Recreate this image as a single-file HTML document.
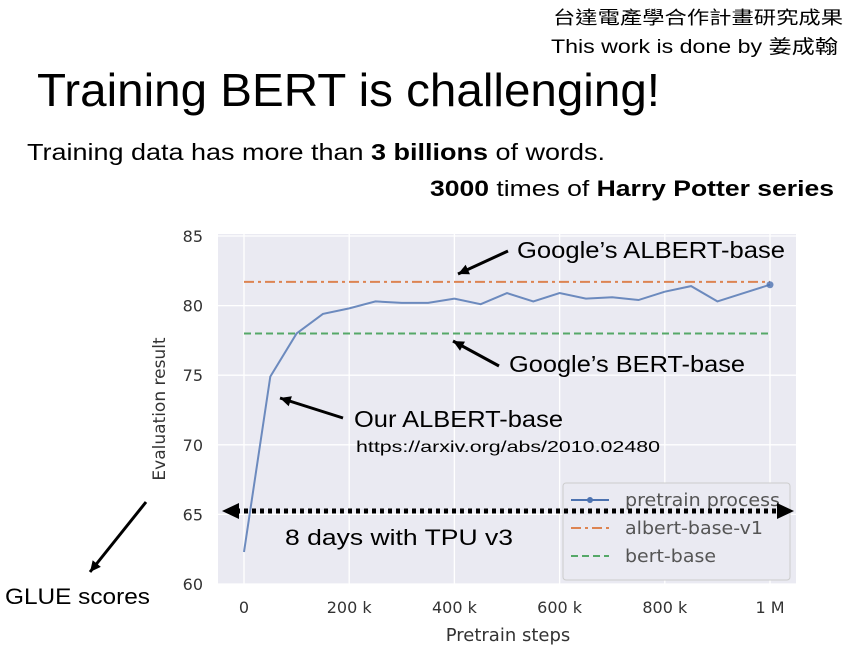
<!DOCTYPE html>
<html><head><meta charset="utf-8"><style>
body{margin:0;width:844px;height:650px;background:#fff;overflow:hidden;position:relative;font-family:"Liberation Sans","Noto Sans CJK TC",sans-serif}
</style></head><body>
<svg id="chart" width="844" height="650" style="position:absolute;left:0;top:0"></svg>
<script>
const steps=[0,50,100,150,200,250,300,350,400,450,500,550,600,650,700,750,800,850,900,950,1000];
const pretrain=[62.3,74.9,78.0,79.4,79.8,80.3,80.2,80.2,80.5,80.1,80.9,80.3,80.9,80.5,80.6,80.4,81.0,81.4,80.3,80.9,81.5];
const albertBase=81.7;
const bertBase=78.0;
const xTicks=[0,200,400,600,800,1000];
const xTickLabels=["0","200 k","400 k","600 k","800 k","1 M"];
const yTicks=[60,65,70,75,80,85];
const NS="http://www.w3.org/2000/svg";
const svg=document.getElementById('chart');
const X=v=>244+(v/1000)*526;
const Y=v=>584-(v-60)*13.92;
function el(t,a,name,p){const e=document.createElementNS(NS,t);for(const k in a)e.setAttribute(k,a[k]);


(p||svg).appendChild(e);return e;}
function txt(x,y,s,w,t,name,bold){const e=el('text',{x,y,'font-size':s,fill:'#000','font-family':'Liberation Sans, Noto Sans CJK TC, sans-serif',textLength:w,lengthAdjust:'spacingAndGlyphs'},name);
if(Array.isArray(t)){t.forEach(p=>{const ts=document.createElementNS(NS,'tspan');if(p[1])ts.setAttribute('font-weight','bold');ts.textContent=p[0];e.appendChild(ts);});}else e.textContent=t;return e;}
txt(553,24,18,290,'台達電產學合作計畫研究成果','credit-line-1');
txt(551,53,19,287,'This work is done by 姜成翰','credit-line-2');
txt(37,106,46,623,'Training BERT is challenging!','slide-title');
txt(27,160,23,578,[['Training data has more than '],['3 billions',1],[' of words.']],'subtitle');
txt(430,196,22,404,[['3000',1],[' times of '],['Harry Potter series',1]],'harry-potter-note');
el('rect',{x:218,y:234,width:578,height:350,fill:'#eaeaf2'},'plot-background');
xTicks.forEach((t,i)=>{el('line',{x1:X(t),x2:X(t),y1:234,y2:584,stroke:'#fff','stroke-width':1.3},'x-gridline');
const tx=el('text',{x:X(t),y:613,'text-anchor':'middle','font-size':16,fill:'#333','font-family':'DejaVu Sans'},'x-tick-label');tx.textContent=xTickLabels[i];});
yTicks.forEach(t=>{el('line',{x1:218,x2:796,y1:Y(t),y2:Y(t),stroke:'#fff','stroke-width':1.3},'y-gridline');
const tx=el('text',{x:203,y:Y(t)+6,'text-anchor':'end','font-size':16,fill:'#333','font-family':'DejaVu Sans'},'y-tick-label');tx.textContent=t;});
const xt=el('text',{x:508,y:641,'text-anchor':'middle','font-size':18,fill:'#333','font-family':'DejaVu Sans'},'x-axis-title');xt.textContent='Pretrain steps';
const yt=el('text',{x:165,y:409,'text-anchor':'middle','font-size':17,fill:'#333','font-family':'DejaVu Sans',transform:'rotate(-90 165 409)'},'y-axis-title');yt.textContent='Evaluation result';
el('line',{x1:X(0),x2:X(1000),y1:Y(albertBase),y2:Y(albertBase),stroke:'#dd8452','stroke-width':2,'stroke-dasharray':'10 4 3 4'},'albert-base-line');
el('line',{x1:X(0),x2:X(1000),y1:Y(bertBase),y2:Y(bertBase),stroke:'#55a868','stroke-width':2,'stroke-dasharray':'7 4'},'bert-base-line');
el('polyline',{points:steps.map((s,i)=>X(s)+','+Y(pretrain[i])).join(' '),fill:'none',stroke:'#4c72b0','stroke-width':2,opacity:0.8},'pretrain-line');
el('circle',{cx:X(steps[steps.length-1]),cy:Y(pretrain[pretrain.length-1]),r:3.5,fill:'#4c72b0',opacity:0.8},'pretrain-end-point');
// legend
el('rect',{x:563,y:483,width:227,height:97,rx:3,fill:'#eaeaf2',stroke:'#ccc'},'legend-box');
const lg=[['pretrain process','#4c72b0','none',155],['albert-base-v1','#dd8452','10 4 3 4',138],['bert-base','#55a868','7 4',91]];
lg.forEach((l,i)=>{const y=500+i*28;
el('line',{x1:571,x2:609,y1:y,y2:y,stroke:l[1],'stroke-width':2,'stroke-dasharray':l[2]},'legend-swatch');
if(i==0)el('circle',{cx:590,cy:y,r:3,fill:l[1]},'legend-marker');
const tx=el('text',{x:625,y:y+6,'font-size':18,fill:'#555','font-family':'DejaVu Sans',textLength:l[3],lengthAdjust:'spacingAndGlyphs'},'legend-entry');tx.textContent=l[0];});
// annotations
function arrow(x1,y1,x2,y2,name){el('line',{x1,y1,x2,y2,stroke:'#000','stroke-width':3},name);
const a=Math.atan2(y2-y1,x2-x1),s=12;
el('polygon',{points:`${x2},${y2} ${x2-s*Math.cos(a-0.45)},${y2-s*Math.sin(a-0.45)} ${x2-s*Math.cos(a+0.45)},${y2-s*Math.sin(a+0.45)}`,fill:'#000'},name+'-head');}
arrow(508,251,458,274,'albert-arrow');
arrow(499,366,453,341,'bert-arrow');
arrow(343,418,280,398,'our-albert-arrow');
arrow(146,502,90,572,'glue-arrow');
el('line',{x1:236,x2:780,y1:511,y2:511,stroke:'#000','stroke-width':5,'stroke-dasharray':'4 4'},'duration-arrow-line');
el('polygon',{points:'222,511 239,503 239,519',fill:'#000'},'duration-arrow-left');
el('polygon',{points:'794,511 777,503 777,519',fill:'#000'},'duration-arrow-right');
txt(517,258,23,268,'Google’s ALBERT-base','albert-label');
txt(509,372,23,236,'Google’s BERT-base','bert-label');
txt(354,427,23,209,'Our ALBERT-base','our-albert-label');
txt(356,452,16,304,'https://arxiv.org/abs/2010.02480','paper-link');
txt(285,545,22,228,'8 days with TPU v3','duration-label');
txt(5,604,22,145,'GLUE scores','glue-label');
</script>
</body></html>
